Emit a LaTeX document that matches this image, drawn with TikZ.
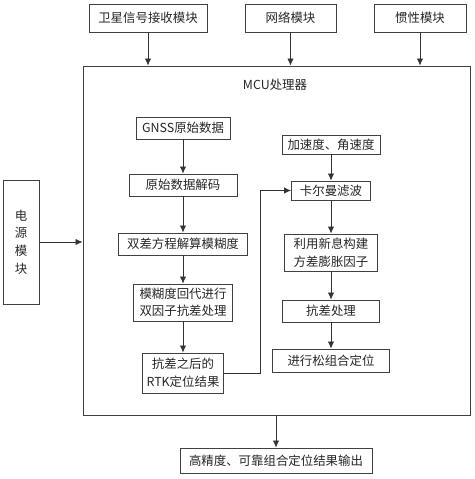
\documentclass[tikz,border=0pt]{standalone}
\usepackage{fontspec}
\setmainfont{Noto Sans CJK SC}
\usepackage{tikz}
\usetikzlibrary{arrows.meta,positioning,calc}

\begin{document}
\begin{tikzpicture}[
  x=0.03cm, y=-0.03cm,
  every node/.style={font=\fontsize{10.6pt}{15pt}\selectfont, text=black!85},
  block/.style={draw=black!75, line width=0.7pt, inner sep=0pt, align=center},
  arrow/.style={-{Latex[length=6pt,width=5.5pt]}, line width=0.7pt, draw=black!80}
]
\useasboundingbox (0,0) rectangle (474,479);
% input modules
\node[block, minimum width=3.54cm, minimum height=0.84cm] (sat) at (148,18) {卫星信号接收模块};
\node[block, minimum width=2.73cm, minimum height=0.84cm] (net) at (290.5,18) {网络模块};
\node[block, minimum width=2.76cm, minimum height=0.84cm] (imu) at (420,18) {惯性模块};
\node[block, minimum width=1.08cm, minimum height=3.72cm] (power) at (21,242) {电\\源\\模\\块};
% processor
\node[block, minimum width=11.61cm, minimum height=10.47cm] (mcu) at (276.5,240.5) {};
\node (title) at (275,85) {MCU处理器};
% RTK branch
\node[block, minimum width=2.82cm, minimum height=0.66cm] (gnss) at (183,128) {GNSS原始数据};
\node[block, minimum width=3.24cm, minimum height=0.66cm] (decode) at (183,185) {原始数据解码};
\node[block, minimum width=3.87cm, minimum height=0.66cm] (ddiff) at (183,244) {双差方程解算模糊度};
\node[block, minimum width=2.97cm, minimum height=1.11cm] (ambig) at (183,302.5) {模糊度回代进行\\双因子抗差处理};
\node[block, minimum width=2.43cm, minimum height=1.2cm] (rtk) at (183,373) {抗差之后的\\RTK定位结果};
% inertial branch
\node[block, minimum width=2.94cm, minimum height=0.57cm] (accel) at (331,144.5) {加速度、角速度};
\node[block, minimum width=2.37cm, minimum height=0.57cm] (kalman) at (331,190.5) {卡尔曼滤波};
\node[block, minimum width=2.79cm, minimum height=1.11cm] (innov) at (331,252.5) {利用新息构建\\方差膨胀因子};
\node[block, minimum width=2.91cm, minimum height=0.66cm] (robust) at (331,311) {抗差处理};
\node[block, minimum width=3.51cm, minimum height=0.69cm] (loose) at (331,360.5) {进行松组合定位};
% output
\node[block, minimum width=5.76cm, minimum height=0.75cm] (out) at (276,460.5) {高精度、可靠组合定位结果输出};

\draw[arrow] (sat.south) -- (sat.south |- mcu.north);
\draw[arrow] (net.south) -- (net.south |- mcu.north);
\draw[arrow] (imu.south) -- (imu.south |- mcu.north);
\draw[arrow] (power.east) -- (power.east -| mcu.west);
\draw[arrow] (gnss) -- (decode);
\draw[arrow] (decode) -- (ddiff);
\draw[arrow] (ddiff) -- (ambig);
\draw[arrow] (ambig) -- (rtk);
\draw[arrow] (rtk.east) -- ++(36,0) |- (kalman.west);
\draw[arrow] (accel) -- (kalman);
\draw[arrow] (kalman) -- (innov);
\draw[arrow] (innov) -- (robust);
\draw[arrow] (robust) -- (loose);
\draw[arrow] (mcu.south -| out.north) -- (out.north);
\end{tikzpicture}
\end{document}
